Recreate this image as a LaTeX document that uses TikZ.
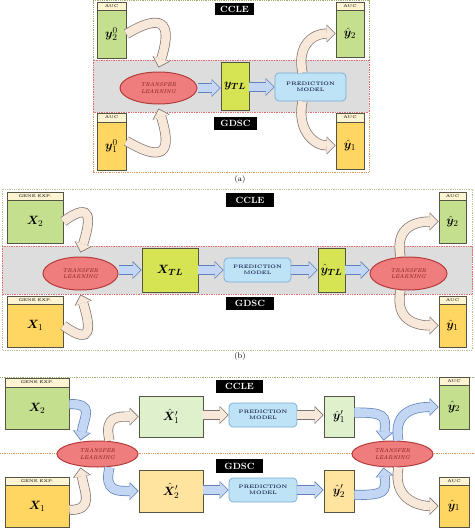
\documentclass[tikz,border=0pt]{standalone}
\usepackage{amsmath,bm}
\usetikzlibrary{arrows.meta,shapes.geometric}
\definecolor{boxedge}{RGB}{85,85,70}
\definecolor{hdrc}{RGB}{255,244,210}
\definecolor{greenc}{RGB}{196,224,142}
\definecolor{yellowc}{RGB}{255,214,98}
\definecolor{limec}{RGB}{214,228,84}
\definecolor{lgreen}{RGB}{222,240,204}
\definecolor{lyellow}{RGB}{255,228,160}
\definecolor{tlfill}{RGB}{240,125,125}
\definecolor{tledge}{RGB}{180,60,60}
\definecolor{tltext}{RGB}{120,20,20}
\definecolor{pmfill}{RGB}{190,226,246}
\definecolor{pmedge}{RGB}{120,170,215}
\definecolor{pmtext}{RGB}{30,40,80}
\definecolor{bandc}{RGB}{221,221,221}
\definecolor{bandedge}{RGB}{230,110,110}
\definecolor{framegc}{RGB}{160,175,110}
\definecolor{frameoc}{RGB}{225,150,90}
\definecolor{frameyc}{RGB}{190,190,150}
\definecolor{bledge}{RGB}{95,130,185}
\definecolor{blfill}{RGB}{195,215,245}
\definecolor{beedge}{RGB}{125,115,110}
\definecolor{befill}{RGB}{248,232,218}
\tikzset{
  fato/.style={line width=10pt, draw=#1, -{Triangle[width=18pt,length=9pt,line width=0pt]}},
  fati/.style={line width=8.6pt, draw=#1, shorten >=1.1pt, -{Triangle[width=15.4pt,length=7.7pt,line width=0pt]}},
  hdr/.style={draw=boxedge, fill=hdrc, line width=0.6pt, inner sep=0pt, font=\fontsize{4}{4}\selectfont\bfseries, text=black!80},
  bx/.style={draw=boxedge, line width=0.8pt, inner sep=0pt, font=\fontsize{13}{13}\selectfont},
  lbl/.style={fill=black, text=white, inner sep=0pt, font=\fontsize{9}{9}\selectfont\bfseries},
  tlnode/.style={ellipse, draw=tledge, fill=tlfill, line width=1pt, inner sep=0pt, text=tltext, font=\fontsize{5.5}{6.5}\selectfont\itshape, align=center},
  pmnode/.style={rounded corners=4pt, draw=pmedge, fill=pmfill, line width=0.7pt, inner sep=0pt, text=pmtext, font=\fontsize{5}{6}\selectfont\bfseries, align=center},
  band/.style={fill=bandc, draw=bandedge, densely dotted, line width=0.7pt},
  frameg/.style={draw=framegc, densely dotted, line width=0.8pt},
  frameo/.style={draw=frameoc, densely dotted, line width=0.8pt},
  framey/.style={draw=frameyc, densely dotted, line width=0.8pt},
  captext/.style={font=\fontsize{8}{8}\selectfont, inner sep=0pt}
}
\newcommand{\fatarrow}[3]{\draw[fato=#1] #3; \draw[fati=#2] #3;}
\begin{document}
\begin{tikzpicture}[x=1pt,y=-1pt]
\useasboundingbox[fill=white] (0,0) rectangle (474,530);
% ================= panel (a)
\draw[band] (93,60) rectangle (369,112);
\draw[frameg] (93,60) -- (93,0.5) -- (369,0.5) -- (369,60);
\draw[frameo] (93,112) -- (93,172) -- (369,172) -- (369,112);
\node[hdr, minimum width=29pt, minimum height=8pt] (a-y2h) at (111.5,6) {AUC};
\node[bx, fill=greenc, minimum width=29pt, minimum height=48pt] (a-y2) at (111.5,34) {$\bm{y}_2^0$};
\node[hdr, minimum width=29pt, minimum height=9pt] (a-y1h) at (111.5,117.5) {AUC};
\node[bx, fill=yellowc, minimum width=29pt, minimum height=48pt] (a-y1) at (111.5,146) {$\bm{y}_1^0$};
\node[lbl, minimum width=39pt, minimum height=12pt] (a-ccle) at (234.5,9) {CCLE};
\node[lbl, minimum width=43pt, minimum height=13pt] (a-gdsc) at (235.5,123.5) {GDSC};
\node[tlnode, minimum width=77pt, minimum height=32pt] (a-tl) at (158.5,88) {TRANSFER\\LEARNING};
\node[bx, fill=limec, minimum width=28pt, minimum height=48pt] (a-ytl) at (235,86) {$\bm{y}_{\bm{TL}}$};
\node[pmnode, minimum width=71pt, minimum height=28pt] (a-pm) at (310.5,87) {PREDICTION\\MODEL};
\node[hdr, minimum width=28pt, minimum height=8pt] (a-yh2h) at (350,6) {AUC};
\node[bx, fill=greenc, minimum width=28pt, minimum height=47pt] (a-yh2) at (350,33.5) {$\hat{\bm{y}}_2$};
\node[hdr, minimum width=28pt, minimum height=9pt] (a-yh1h) at (350,117.5) {AUC};
\node[bx, fill=yellowc, minimum width=28pt, minimum height=47pt] (a-yh1) at (350,145.5) {$\hat{\bm{y}}_1$};
\node[captext] (a-cap) at (240,179) {(a)};
\fatarrow{beedge}{befill}{(a-y2.east) .. controls +(42,-25) and +(12,-38) .. ([yshift=4pt]a-tl.north)}
\fatarrow{beedge}{befill}{([yshift=5pt]a-y1.east) .. controls +(42,25) and +(12,38) .. ([yshift=-4pt]a-tl.south)}
\fatarrow{beedge}{befill}{([xshift=-8pt]a-pm.north) .. controls +(-6,-28) and +(-22,0) .. (a-yh2.west)}
\fatarrow{beedge}{befill}{([xshift=-8pt]a-pm.south) .. controls +(-6,28) and +(-22,0) .. (a-yh1.west)}
\fatarrow{bledge}{blfill}{(a-tl.east) -- (a-tl.east -| a-ytl.west)}
\fatarrow{bledge}{blfill}{(a-ytl.east |- a-pm.west) -- (a-pm.west)}
% ================= panel (b)
\draw[framey] (2,189) rectangle (472,350);
\draw[band] (2,246) rectangle (472,294);
\node[hdr, minimum width=56pt, minimum height=8pt] (b-x2h) at (35,196) {GENE EXP.};
\node[bx, fill=greenc, minimum width=56pt, minimum height=43pt] (b-x2) at (35,221.5) {$\bm{X}_2$};
\node[hdr, minimum width=56pt, minimum height=8pt] (b-x1h) at (35,300) {GENE EXP.};
\node[bx, fill=yellowc, minimum width=56pt, minimum height=43pt] (b-x1) at (35,325.5) {$\bm{X}_1$};
\node[lbl, minimum width=48pt, minimum height=14pt] (b-ccle) at (250,200) {CCLE};
\node[lbl, minimum width=48pt, minimum height=13pt] (b-gdsc) at (250,303.5) {GDSC};
\node[tlnode, minimum width=75pt, minimum height=33pt] (b-tl) at (80.5,273.5) {TRANSFER\\LEARNING};
\node[bx, fill=limec, minimum width=56pt, minimum height=44pt] (b-xtl) at (170,270) {$\bm{X}_{\bm{TL}}$};
\node[pmnode, minimum width=67pt, minimum height=24pt] (b-pm) at (257.5,270) {PREDICTION\\MODEL};
\node[bx, fill=limec, minimum width=27pt, minimum height=44pt] (b-ytl) at (331.5,270) {$\hat{\bm{y}}_{\bm{TL}}$};
\node[tlnode, minimum width=77pt, minimum height=33pt] (b-tl2) at (408.5,273.5) {TRANSFER\\LEARNING};
\node[hdr, minimum width=27pt, minimum height=8pt] (b-yh2h) at (452.5,196) {AUC};
\node[bx, fill=greenc, minimum width=27pt, minimum height=43pt] (b-yh2) at (452.5,221.5) {$\hat{\bm{y}}_2$};
\node[hdr, minimum width=27pt, minimum height=8pt] (b-yh1h) at (452.5,300) {AUC};
\node[bx, fill=yellowc, minimum width=27pt, minimum height=43pt] (b-yh1) at (452.5,325.5) {$\hat{\bm{y}}_1$};
\node[captext] (b-cap) at (240,356) {(b)};
\fatarrow{beedge}{befill}{(b-x2.east) .. controls +(30,-22) and +(10,-32) .. ([yshift=4pt]b-tl.north)}
\fatarrow{beedge}{befill}{(b-x1.east) .. controls +(30,22) and +(10,32) .. ([yshift=-4pt]b-tl.south)}
\fatarrow{beedge}{befill}{([xshift=-8pt]b-tl2.north) .. controls +(-6,-30) and +(-22,0) .. (b-yh2.west)}
\fatarrow{beedge}{befill}{([xshift=-8pt]b-tl2.south) .. controls +(-6,30) and +(-22,0) .. (b-yh1.west)}
\fatarrow{bledge}{blfill}{(b-tl.east |- b-xtl.west) -- (b-xtl.west)}
\fatarrow{bledge}{blfill}{(b-xtl.east) -- (b-pm.west)}
\fatarrow{bledge}{blfill}{(b-pm.east) -- (b-ytl.west)}
\fatarrow{bledge}{blfill}{(b-ytl.east) -- (b-ytl.east -| b-tl2.west)}
% ================= panel (c)
\draw[frameg] (0,377) -- (474,377);
\draw[frameo] (0,453) -- (474,453);
\node[hdr, minimum width=64pt, minimum height=9pt] (c-x2h) at (37,382.5) {GENE EXP.};
\node[bx, fill=greenc, minimum width=64pt, minimum height=42pt] (c-x2) at (37,408) {$\bm{X}_2$};
\node[hdr, minimum width=64pt, minimum height=8pt] (c-x1h) at (37,481) {GENE EXP.};
\node[bx, fill=yellowc, minimum width=64pt, minimum height=42pt] (c-x1) at (37,506) {$\bm{X}_1$};
\node[lbl, minimum width=47pt, minimum height=13pt] (c-ccle) at (239.5,386.5) {CCLE};
\node[lbl, minimum width=47pt, minimum height=14pt] (c-gdsc) at (239.5,466) {GDSC};
\node[tlnode, minimum width=81pt, minimum height=26pt] (c-tl) at (97.5,454) {TRANSFER\\LEARNING};
\node[bx, fill=lgreen, minimum width=64pt, minimum height=41pt] (c-xh1) at (171,416.5) {$\hat{\bm{X}}'_1$};
\node[bx, fill=lyellow, minimum width=64pt, minimum height=42pt] (c-xh2) at (171,491) {$\hat{\bm{X}}'_2$};
\node[pmnode, minimum width=68pt, minimum height=24pt] (c-pm1) at (263,415) {PREDICTION\\MODEL};
\node[pmnode, minimum width=68pt, minimum height=24pt] (c-pm2) at (263,490) {PREDICTION\\MODEL};
\node[bx, fill=lgreen, minimum width=30pt, minimum height=41pt] (c-yp1) at (339,416.5) {$\hat{\bm{y}}'_1$};
\node[bx, fill=lyellow, minimum width=30pt, minimum height=42pt] (c-yp2) at (339,491) {$\hat{\bm{y}}'_2$};
\node[tlnode, minimum width=81pt, minimum height=26pt] (c-tl2) at (392.5,454) {TRANSFER\\LEARNING};
\node[hdr, minimum width=30pt, minimum height=8pt] (c-yh2h) at (454,381) {AUC};
\node[bx, fill=greenc, minimum width=30pt, minimum height=44pt] (c-yh2) at (454,407) {$\hat{\bm{y}}_2$};
\node[hdr, minimum width=30pt, minimum height=8pt] (c-yh1h) at (454,481) {AUC};
\node[bx, fill=yellowc, minimum width=30pt, minimum height=42pt] (c-yh1) at (454,506) {$\hat{\bm{y}}_1$};
\fatarrow{bledge}{blfill}{([yshift=4pt]c-x2.east) .. controls +(25,0) and +(4,-25) .. ([xshift=-17pt]c-tl.north)}
\fatarrow{beedge}{befill}{([yshift=-4pt]c-x1.east) .. controls +(25,0) and +(4,25) .. ([xshift=-17pt]c-tl.south)}
\fatarrow{beedge}{befill}{([xshift=12pt]c-tl.north) .. controls +(-6,-25) and +(-20,0) .. (c-xh1.west)}
\fatarrow{bledge}{blfill}{([xshift=12pt]c-tl.south) .. controls +(-6,25) and +(-20,0) .. (c-xh2.west)}
\fatarrow{bledge}{blfill}{([yshift=4pt]c-yp1.east) .. controls +(30,0) and +(3,-25) .. ([xshift=-9pt]c-tl2.north)}
\fatarrow{bledge}{blfill}{([yshift=-4pt]c-yp2.east) .. controls +(30,0) and +(3,25) .. ([xshift=-9pt]c-tl2.south)}
\fatarrow{bledge}{blfill}{([xshift=6pt]c-tl2.north) .. controls +(-6,-30) and +(-22,0) .. (c-yh2.west)}
\fatarrow{beedge}{befill}{([xshift=6pt]c-tl2.south) .. controls +(-6,30) and +(-22,0) .. (c-yh1.west)}
\fatarrow{beedge}{befill}{(c-xh1.east |- c-pm1.west) -- (c-pm1.west)}
\fatarrow{beedge}{befill}{(c-pm1.east) -- (c-pm1.east -| c-yp1.west)}
\fatarrow{bledge}{blfill}{(c-xh2.east |- c-pm2.west) -- (c-pm2.west)}
\fatarrow{bledge}{blfill}{(c-pm2.east) -- (c-pm2.east -| c-yp2.west)}
\end{tikzpicture}
\end{document}
